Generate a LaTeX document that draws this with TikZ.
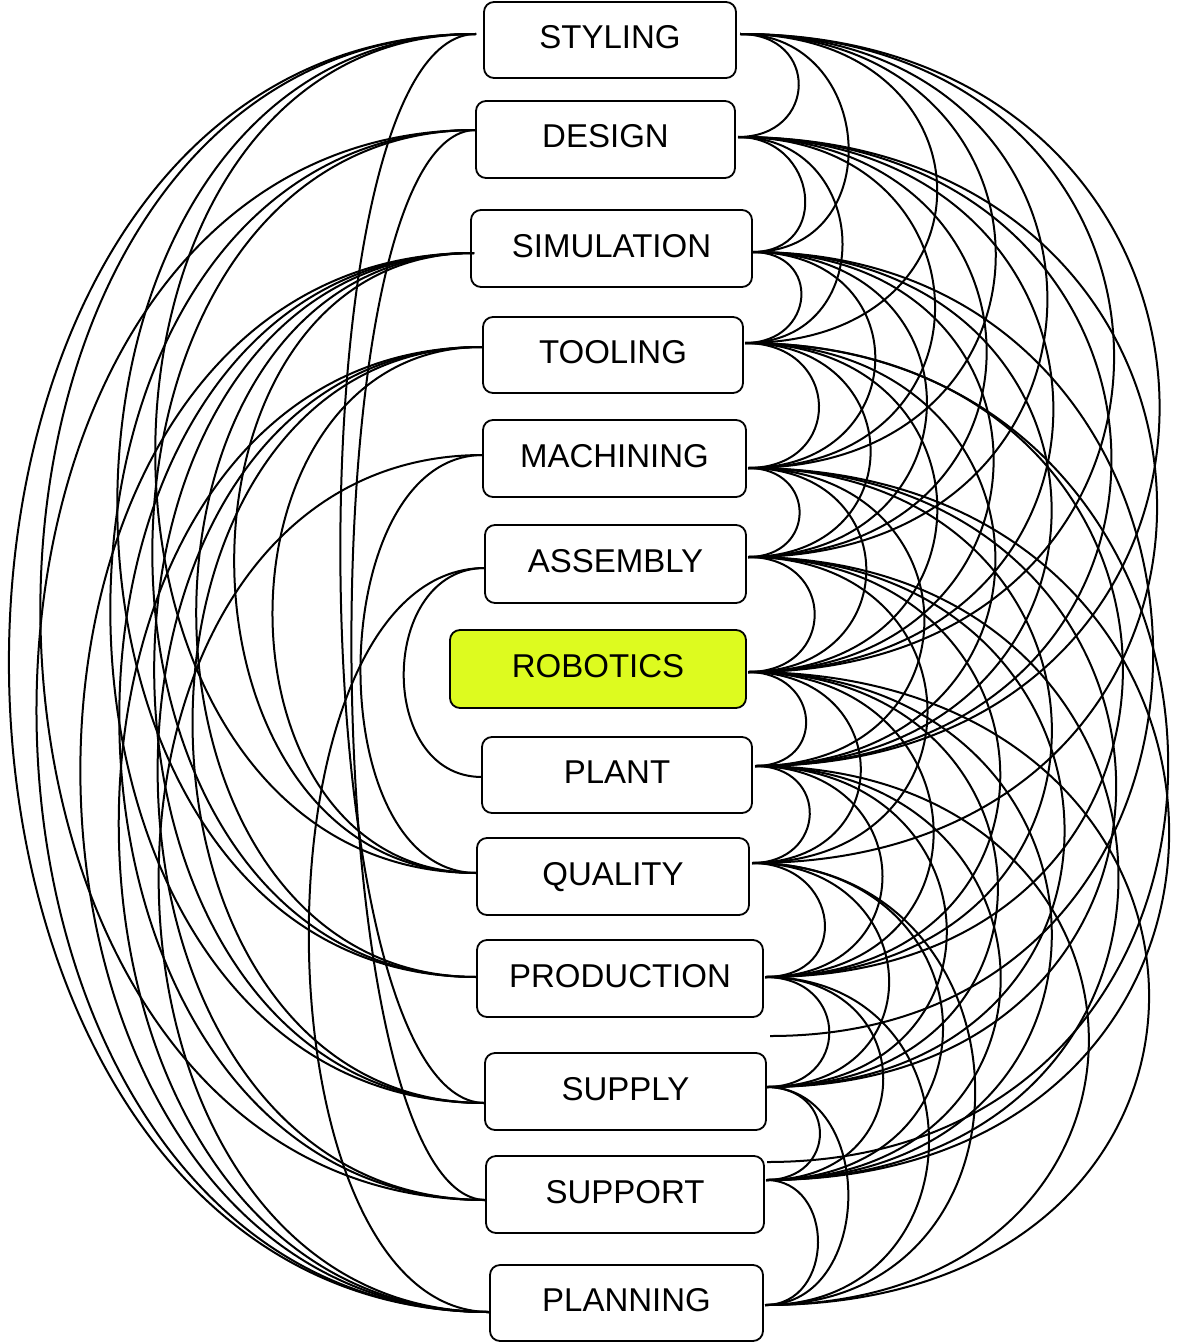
\documentclass[tikz,border=0pt]{standalone}
\usepackage{fontspec}
\setmainfont{Liberation Sans}
\usetikzlibrary{calc}
\definecolor{robofill}{HTML}{DDFB1F}
\newcommand\rlink[3][0.58]{\draw[link] let \p1=(#2-r), \p2=(#3-r), \n1={min(#1*abs(\y2-\y1),412)/0.75} in (#2-r) .. controls +(\n1,0) and +(\n1,0) .. (#3-r);}
\newcommand\llink[3][0.365]{\draw[link] let \p1=(#2-l), \p2=(#3-l), \n1={min(15+#1*abs(\y2-\y1),474)/0.75} in (#2-l) .. controls +(-\n1,0) and +(-\n1,0) .. (#3-l);}
\begin{document}
\begin{tikzpicture}[x=1pt,y=-1pt,
  box/.style={draw, line width=1.8pt, rounded corners=10pt, fill=white, inner sep=0pt,
    font=\fontsize{33}{36}\selectfont, text height=24pt, text depth=7pt},
  link/.style={line width=2pt}]
\useasboundingbox (0,0) rectangle (1183,1343);
% boxes
\node[box, minimum width=252pt, minimum height=76pt] (sty) at (610,40) {STYLING};
\node[box, minimum width=259pt, minimum height=77pt] (des) at (605.5,139.5) {DESIGN};
\node[box, minimum width=281pt, minimum height=77pt] (sim) at (611.5,248.5) {SIMULATION};
\node[box, minimum width=260pt, minimum height=76pt] (too) at (613,355) {TOOLING};
\node[box, minimum width=263pt, minimum height=77pt] (mac) at (614.5,458.5) {MACHINING};
\node[box, minimum width=261pt, minimum height=78pt] (ass) at (615.5,564) {ASSEMBLY};
\node[box, fill=robofill, minimum width=296pt, minimum height=78pt] (rob) at (598,669) {ROBOTICS};
\node[box, minimum width=270pt, minimum height=76pt] (pla) at (617,775) {PLANT};
\node[box, minimum width=272pt, minimum height=77pt] (qua) at (613,876.5) {QUALITY};
\node[box, minimum width=286pt, minimum height=77pt] (pro) at (620,978.5) {PRODUCTION};
\node[box, minimum width=281pt, minimum height=77pt] (sup) at (625.5,1091.5) {SUPPLY};
\node[box, minimum width=278pt, minimum height=77pt] (spt) at (625,1194.5) {SUPPORT};
\node[box, minimum width=273pt, minimum height=76pt] (pln) at (626.5,1303) {PLANNING};
% arc ends
\coordinate (sty-r) at (740,34);  \coordinate (sty-l) at (476,34);
\coordinate (des-r) at (738,137); \coordinate (des-l) at (476,130);
\coordinate (sim-r) at (752,252); \coordinate (sim-l) at (474,253);
\coordinate (too-r) at (745,343); \coordinate (too-l) at (482,347);
\coordinate (mac-r) at (748,468); \coordinate (mac-l) at (483,455);
\coordinate (ass-r) at (748,557); \coordinate (ass-l) at (485,568);
\coordinate (rob-r) at (748,672);
\coordinate (pla-r) at (755,766); \coordinate (pla-l) at (482,777);
\coordinate (qua-r) at (752,863); \coordinate (qua-l) at (477,873);
\coordinate (pro-r) at (765,977); \coordinate (pro-l) at (477,977);
\coordinate (sup-r) at (766,1087); \coordinate (sup-l) at (485,1103);
\coordinate (spt-r) at (766,1180); \coordinate (spt-l) at (486,1200);
\coordinate (pln-r) at (765,1305); \coordinate (pln-l) at (490,1312);
\coordinate (xa-r) at (770,1036);
\coordinate (xb-r) at (767,1162);
% right side
\rlink{sty}{des}\rlink[0.47]{sty}{sim}\rlink[0.63]{sty}{too}\rlink{sty}{mac}\rlink{sty}{ass}
\rlink[0.52]{des}{sim}\rlink[0.49]{des}{too}\rlink{des}{mac}\rlink{des}{ass}
\rlink{sim}{too}\rlink{sim}{mac}\rlink{sim}{ass}
\rlink{too}{mac}\rlink{too}{ass}\rlink{mac}{ass}
\rlink{sty}{rob}\rlink{des}{rob}\rlink{sim}{rob}\rlink{too}{rob}\rlink{mac}{rob}\rlink{ass}{rob}
\rlink{rob}{pla}\rlink{rob}{qua}\rlink{rob}{pro}\rlink{rob}{sup}\rlink{rob}{spt}\rlink[0.62]{rob}{pln}
\rlink{pla}{qua}\rlink{pla}{pro}\rlink{pla}{sup}\rlink{pla}{spt}\rlink[0.61]{pla}{pln}
\rlink{qua}{pro}\rlink{qua}{sup}\rlink{qua}{spt}\rlink[0.49]{qua}{pln}
\rlink{pro}{sup}\rlink{pro}{spt}\rlink[0.5]{pro}{pln}
\rlink{sup}{spt}\rlink[0.38]{sup}{pln}\rlink[0.42]{spt}{pln}
\rlink{sty}{pla}\rlink{des}{pla}\rlink{des}{qua}\rlink{sim}{pla}\rlink{too}{pla}\rlink{too}{pro}
\rlink{mac}{pla}\rlink{mac}{pro}\rlink{mac}{sup}\rlink{mac}{spt}
\rlink{ass}{qua}\rlink{ass}{pro}\rlink{ass}{sup}\rlink{ass}{spt}
\rlink[0.5]{sim}{xa}\rlink{too}{xb}
% left side
\llink{sty}{qua}\llink{sty}{pro}\llink[0.117]{sty}{sup}\llink{sty}{spt}\llink{sty}{pln}
\llink{des}{pro}\llink{des}{sup}\llink[0.107]{des}{spt}\llink{des}{pln}
\llink{sim}{qua}\llink{sim}{pro}\llink{sim}{sup}\llink{sim}{spt}\llink{sim}{pln}
\llink{too}{qua}\llink{too}{sup}\llink{too}{spt}\llink{too}{pln}
\llink[0.25]{mac}{qua}\llink{mac}{pln}
\llink[0.31]{ass}{pla}\llink[0.22]{ass}{pln}
\end{tikzpicture}
\end{document}
